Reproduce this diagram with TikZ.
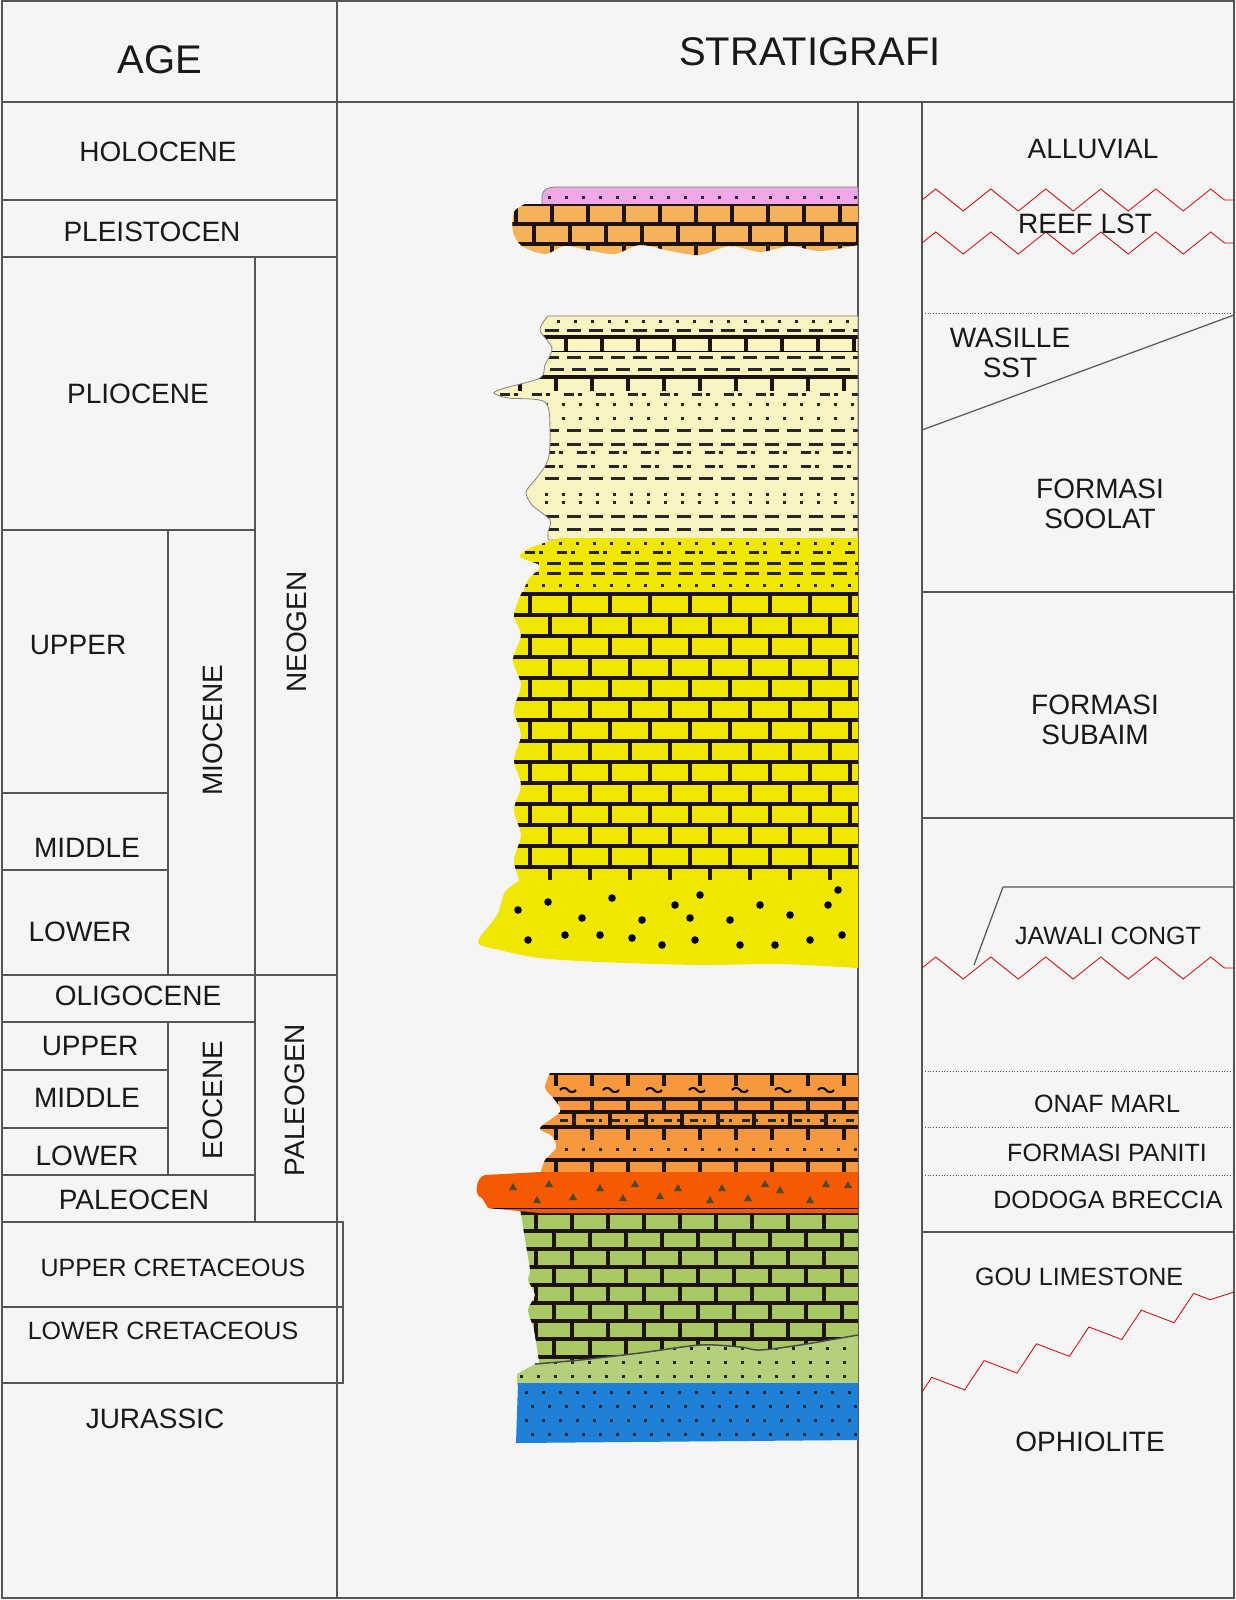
\documentclass[tikz,border=0pt]{standalone}
\usepackage{fontspec}
\setmainfont{Liberation Sans}
\usetikzlibrary{decorations.pathmorphing}
\definecolor{bg}{HTML}{F5F5F5}
\definecolor{ln}{HTML}{555555}
\definecolor{pinkL}{HTML}{F0A8E8}
\definecolor{orL}{HTML}{F5B25A}
\definecolor{paleY}{HTML}{F9F3C2}
\definecolor{yelL}{HTML}{F0E600}
\definecolor{orM}{HTML}{F7983F}
\definecolor{redO}{HTML}{F55A00}
\definecolor{grnL}{HTML}{A8C864}
\definecolor{bluL}{HTML}{1F80D8}
\tikzset{
 frame/.style={draw=ln,line width=1.2pt},
 brk/.style={line width=3.5pt,black!85!brown},
 lbl/.style={font=\fontsize{28}{30}\selectfont,text=black!90},
 sml/.style={font=\fontsize{25}{27}\selectfont,text=black!90},
 big/.style={font=\fontsize{40}{42}\selectfont,text=black!90},
 rz/.style={draw=red!80!black,line width=0.8pt,decorate,decoration={zigzag,segment length=55pt,amplitude=11pt}},
 dotl/.style={draw=ln,line width=0.8pt,dotted},
 edge/.style={draw=black!50,line width=0.8pt},
 dl/.style={line width=3pt,black!85,dash pattern=on 3pt off 14pt},
 ds/.style={line width=3pt,black!85,dash pattern=on 14pt off 8pt},
 dm/.style={line width=3pt,black!85,dash pattern=on 10pt off 4pt on 4pt off 14pt},
}
\newcommand\mybricks[6]{%
 \pgfmathtruncatemacro\nr{(#4-#3)/#5}%
 \pgfmathtruncatemacro\nc{(#2-#1)/#6+1}%
 \foreach \i in {0,...,\nr}{%
  \pgfmathsetmacro\yy{#3+\i*#5}\pgfmathsetmacro\yb{\yy+#5}%
  \draw[brk] (#1,\yy)--(#2,\yy);
  \foreach \j in {0,...,\nc}{%
   \pgfmathsetmacro\xx{#1+\j*#6+mod(\i,2)*#6/2}%
   \draw[brk] (\xx,\yy)--(\xx,\yb);}}}
\begin{document}
\begin{tikzpicture}[x=1pt,y=-1pt]
\useasboundingbox (0,0) rectangle (1236,1600);
\fill[bg] (0,0) rectangle (1236,1600);
\draw[frame] (2,1) rectangle (1234,1598);
\draw[frame] (2,102)--(1234,102);
\draw[frame] (337,1)--(337,1598);
\node[big] (age) at (160,60) {AGE};
\node[big] (str) at (810,52) {STRATIGRAFI};
% age column
\draw[frame] (2,200)--(337,200) (2,257)--(337,257);
\draw[frame] (255,257)--(255,1222);
\draw[frame] (2,530)--(255,530) (168,530)--(168,975);
\draw[frame] (2,793)--(168,793) (2,870)--(168,870);
\draw[frame] (2,975)--(337,975) (2,1022)--(255,1022);
\draw[frame] (168,1022)--(168,1175) (2,1070)--(168,1070) (2,1128)--(168,1128);
\draw[frame] (2,1175)--(255,1175);
\draw[frame] (2,1222) rectangle (343,1307);
\draw[frame] (2,1307) rectangle (343,1383);
\node[lbl] (hol) at (158,152) {HOLOCENE};
\node[lbl] (ple) at (152,232) {PLEISTOCEN};
\node[lbl] (pli) at (138,394) {PLIOCENE};
\node[lbl] (mu) at (78,645) {UPPER};
\node[lbl] (mm) at (87,848) {MIDDLE};
\node[lbl] (ml) at (80,932) {LOWER};
\node[lbl,rotate=90] (mio) at (213,730) {MIOCENE};
\node[lbl,rotate=90] (neo) at (297,632) {NEOGEN};
\node[lbl] (oli) at (138,996) {OLIGOCENE};
\node[lbl] (eu) at (90,1046) {UPPER};
\node[lbl] (em) at (87,1098) {MIDDLE};
\node[lbl] (el) at (87,1156) {LOWER};
\node[lbl,rotate=90] (eoc) at (213,1100) {EOCENE};
\node[lbl,rotate=90] (pal) at (295,1100) {PALEOGEN};
\node[lbl] (pln) at (134,1200) {PALEOCEN};
\node[sml] (uc) at (173,1268) {UPPER CRETACEOUS};
\node[sml] (lc) at (163,1331) {LOWER CRETACEOUS};
\node[lbl] (jur) at (155,1419) {JURASSIC};
% right columns
\draw[frame] (858,102)--(858,1598) (922,102)--(922,1598);
\draw[rz] (922,200)--(1234,200);
\draw[rz] (922,243)--(1234,243);
\draw[dotl] (922,313)--(1234,313);
\draw[frame] (922,430)--(1234,315);
\draw[frame] (922,592)--(1234,592) (922,818)--(1234,818);
\draw[frame] (1003,887)--(1234,887) (1003,887)--(974,965);
\draw[rz] (922,968)--(1234,968);
\draw[dotl] (922,1071)--(1234,1071) (922,1127)--(1234,1127) (922,1175)--(1234,1175);
\draw[frame] (922,1232)--(1234,1232);
\draw[rz] (922,1392)--(1234,1292);
\node[lbl] (all) at (1093,149) {ALLUVIAL};
\node[lbl] (ref) at (1085,224) {REEF LST};
\node[lbl,align=center] (was) at (1010,353) {WASILLE\\SST};
\node[lbl,align=center] (soo) at (1100,504) {FORMASI\\SOOLAT};
\node[lbl,align=center] (sub) at (1095,720) {FORMASI\\SUBAIM};
\node[sml] (jaw) at (1108,936) {JAWALI CONGT};
\node[sml] (ona) at (1107,1104) {ONAF MARL};
\node[sml] (pan) at (1107,1153) {FORMASI PANITI};
\node[sml] (dod) at (1108,1200) {DODOGA BRECCIA};
\node[sml] (gou) at (1079,1277) {GOU LIMESTONE};
\node[lbl] (oph) at (1090,1442) {OPHIOLITE};
% ---- lithology ----
% pink
\path[save path=\pPink] (542,206)--(542,196) to[out=90,in=180] (555,187)--(858,187)--(858,206)--cycle;
\fill[pinkL,use path=\pPink];
\draw[dl] (548,197)--(858,197);
\draw[edge,use path=\pPink];
% orange limestone
\path[save path=\pOr] (858,204)--plot[smooth] coordinates {(525,204)(514,212)(513,232)(522,246)(545,254)(565,246)(592,251)(615,254)(640,245)(670,251)(700,255)(730,246)(760,252)(790,246)(820,251)(858,245)}--cycle;
\begin{scope}\clip[use path=\pOr];
\fill[orL] (500,190) rectangle (860,260);
\mybricks{480}{860}{204}{256}{20}{36}
\end{scope}
% pale yellow
\path[save path=\pPale] (858,316)--plot[smooth] coordinates {(548,316)(540,330)(552,348)(545,365)(540,378)(505,388)(494,393)(508,398)(545,402)(550,430)(548,460)(535,480)(526,492)(532,505)(550,520)(548,532)(548,540)}--(858,540)--cycle;
\begin{scope}\clip[use path=\pPale];
\fill[paleY] (480,300) rectangle (860,545);
\draw[dl] (540,321)--(858,321);
\draw[ds] (545,330)--(858,330);
\mybricks{530}{860}{337}{337}{14}{36}
\draw[line width=1pt] (530,351)--(858,351);
\draw[ds] (545,357)--(858,357);
\draw[ds] (550,369)--(858,369);
\mybricks{520}{860}{377}{377}{14}{36}
\draw[dm] (500,394)--(858,394);
\foreach \yy/\st in {404/dl,418/dl,430/ds,444/ds,452/dm,466/dm,478/ds,494/dl,502/dl,516/ds,529/ds}{\draw[\st] (545,\yy)--(858,\yy);}
\end{scope}
\draw[edge,use path=\pPale];
% yellow sandy
\path[save path=\pYs] (858,538)--plot[smooth] coordinates {(560,538)(530,548)(520,557)(540,566)(528,580)(522,596)}--(858,596)--cycle;
\begin{scope}\clip[use path=\pYs];
\fill[yelL] (500,530) rectangle (860,600);
\foreach \yy/\st in {543/dl,552/dm,563/ds,573/ds,585/dl}{\draw[\st] (525,\yy)--(858,\yy);}
\end{scope}
% yellow limestone
\path[save path=\pYl] (858,592)--plot[smooth] coordinates {(522,592)(514,615)(521,635)(513,660)(521,685)(514,710)(521,735)(514,760)(521,785)(514,810)(521,835)(514,860)(520,882)}--(858,882)--cycle;
\begin{scope}\clip[use path=\pYl];
\fill[yelL] (500,590) rectangle (860,890);
\mybricks{490}{860}{594}{880}{21}{40}
\end{scope}
% conglomerate
\path[save path=\pCg] (858,880)--plot[smooth] coordinates {(520,880)(505,892)(497,915)(478,942)(500,950)(540,958)(600,962)(700,965)(780,964)(858,968)}--cycle;
\fill[yelL,use path=\pCg];
\foreach \px/\py in {518/910,548/902,582/918,612/898,642/920,675/905,700/895,730/920,760/905,790/915,828/905,838/890,528/940,565/935,600/935,632/938,662/945,695/940,740/945,775/945,810/940,842/935,690/918}{\fill[black] (\px,\py) circle (3.8);}
% orange lower
\path[save path=\pOm] (858,1073)--plot[smooth] coordinates {(550,1073)(545,1088)(555,1100)(560,1112)(540,1128)(552,1136)(556,1148)(545,1160)(540,1175)}--(858,1175)--cycle;
\begin{scope}\clip[use path=\pOm];
\fill[orM] (520,1060) rectangle (860,1180);
\mybricks{520}{860}{1073}{1073}{13}{36}
\foreach \xx in {560,603,646,689,732,775,818}{\draw[line width=2pt] (\xx,1090) to[out=60,in=120] (\xx+8,1090) to[out=-60,in=-120] (\xx+16,1090);}
\mybricks{520}{860}{1099}{1112}{13}{36}
\draw[line width=3pt,black!85,dash pattern=on 8pt off 5pt on 3pt off 10pt] (560,1120)--(858,1120);
\mybricks{520}{860}{1127}{1127}{13}{36}
\draw[dl] (565,1149)--(858,1149);
\mybricks{520}{860}{1160}{1160}{15}{36}
\end{scope}
% green limestone
\path[save path=\pGl] (858,1208)--plot[smooth] coordinates {(520,1208)(526,1245)(530,1270)(528,1280)(535,1295)(528,1310)(534,1330)(540,1368)}--(858,1368)--cycle;
\begin{scope}\clip[use path=\pGl];
\fill[grnL] (500,1205) rectangle (860,1370);
\mybricks{500}{860}{1213}{1360}{18}{36}
\end{scope}
% red-orange breccia
\path[save path=\pRo] (858,1172)--(540,1172)--(485,1175) to[out=-170,in=170] (482,1198)--(488,1208)--(540,1213)--(858,1213)--cycle;
\begin{scope}\clip[use path=\pRo];
\fill[redO] (470,1170) rectangle (860,1215);
\foreach \px/\py in {513/1187,549/1184,600/1188,635/1184,678/1188,722/1188,765/1184,780/1190,848/1185,537/1200,573/1197,623/1198,660/1196,710/1200,748/1198,810/1200,826/1184}{\fill[black!60!olive] (\px,\py) +(-4,3)--+(4,3)--+(0,-4)--cycle;}
\draw[dm] (490,1214)--(858,1214);
\draw[line width=1pt] (490,1208)--(858,1208);
\end{scope}
% light green sand
\path[save path=\pLg] (858,1335)--plot[smooth] coordinates {(800,1345)(760,1350)(740,1347)(700,1345)(640,1353)(580,1360)(535,1364)}--(517,1374)--(517,1385)--(858,1385)--cycle;
\begin{scope}\clip[use path=\pLg];
\fill[grnL!85!white] (500,1330) rectangle (860,1390);
\foreach \yy in {1348,1362,1376}{\draw[dl] (520,\yy)--(858,\yy);}
\end{scope}
\draw[line width=1.5pt,black!70] plot[smooth] coordinates {(858,1335)(800,1345)(760,1350)(740,1347)(700,1345)(640,1353)(580,1360)(535,1364)};
% blue
\path[save path=\pBl] (518,1383)--(858,1383)--(858,1440)--(516,1443)--cycle;
\begin{scope}\clip[use path=\pBl];
\fill[bluL] (500,1380) rectangle (860,1445);
\foreach \yy/\o in {1392/0,1406/6,1420/0,1434/6}{\draw[dl] (525+\o,\yy)--(858,\yy);}
\end{scope}
\end{tikzpicture}
\end{document}
